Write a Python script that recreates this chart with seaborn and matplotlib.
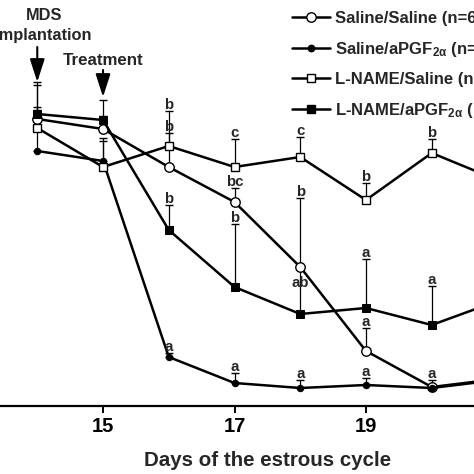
import matplotlib
matplotlib.use("Agg")
import matplotlib.pyplot as plt
import seaborn as sns
import numpy as np
import pandas as pd
from matplotlib.lines import Line2D

# ---------------- data ----------------
days = [14, 15, 16, 17, 18, 19, 20, 21]
series_names = ["Saline/Saline (n=6)",
                "Saline/aPGF$_{2\\alpha}$ (n=6)",
                "L-NAME/Saline (n=6)",
                "L-NAME/aPGF$_{2\\alpha}$ (n=6)"]
saline_saline = [71.75, 69.25, 59.75, 51.0, 34.75, 13.75, 4.75, 6.75]
saline_apgf = [63.75, 61.25, 12.25, 5.75, 4.5, 5.25, 4.5, 6.5]
lname_saline = [69.5, 59.75, 65.0, 59.75, 62.25, 51.5, 63.25, 56.5]
lname_apgf = [73.0, 71.5, 44.0, 29.75, 23.0, 24.5, 20.25, 26.25]

se_saline_saline = [2.25, 7.25, 14.0, 3.5, 0.0, 5.75, 1.75, 1.5]
se_saline_apgf = [16.5, 5.0, 1.0, 2.5, 2.0, 1.75, 0.5, 0.5]
se_lname_saline = [11.5, 7.25, 3.25, 7.0, 5.0, 4.25, 3.5, 3.0]
se_lname_apgf = [1.75, 1.0, 6.25, 15.75, 29.0, 12.25, 9.75, 5.0]

# significance letters: (series index, day, text, placement)
letters = [
    (0, 16, "b", "above"), (0, 17, "bc", "above"), (0, 18, "ab", "below"),
    (0, 19, "a", "above"), (0, 20, "a", "above"),
    (1, 16, "a", "above"), (1, 17, "a", "above"), (1, 18, "a", "above"),
    (1, 19, "a", "above"),
    (2, 16, "b", "above"), (2, 17, "c", "above"), (2, 18, "c", "above"),
    (2, 19, "b", "above"), (2, 20, "b", "above"),
    (3, 16, "b", "above"), (3, 17, "b", "above"), (3, 18, "b", "above"),
    (3, 19, "a", "above"), (3, 20, "a", "above"),
]
xtick_vals = [15, 17, 19]
xtick_labels = ["15", "17", "19"]
x_label = "Days of the estrous cycle"

# ---------------- style ----------------
sns.set_style("white")
plt.rcParams["font.family"] = ["Liberation Sans", "DejaVu Sans"]
plt.rcParams["font.weight"] = "bold"
plt.rcParams["mathtext.fontset"] = "custom"
plt.rcParams["mathtext.rm"] = "Liberation Sans:bold"
plt.rcParams["mathtext.it"] = "Liberation Sans:bold"
plt.rcParams["mathtext.bf"] = "Liberation Sans:bold"
plt.rcParams["mathtext.default"] = "bf"

means = [saline_saline, saline_apgf, lname_saline, lname_apgf]
ses = [se_saline_saline, se_saline_apgf, se_lname_saline, se_lname_apgf]
marker_styles = [
    dict(marker="o", markersize=6.8, markerfacecolor="white", markeredgecolor="black", markeredgewidth=1.0),
    dict(marker="o", markersize=4.6, markerfacecolor="black", markeredgecolor="black"),
    dict(marker="s", markersize=6.4, markerfacecolor="white", markeredgecolor="black", markeredgewidth=1.0),
    dict(marker="s", markersize=5.2, markerfacecolor="black", markeredgecolor="black"),
]

fig = plt.figure(figsize=(4.74, 4.74), dpi=100)
ax = fig.add_axes([0.0, 68 / 474, 1.0, 406 / 474])

# error bars (upper only)
for m, s in zip(means, ses):
    ax.errorbar(days, m, yerr=[np.zeros(len(s)), s], fmt="none", ecolor="black",
                elinewidth=0.9, capsize=3.2, capthick=1.0, zorder=1)

handles = []
for name, m, ms in zip(series_names, means, marker_styles):
    df = pd.DataFrame({"day": days, "value": m})
    sns.lineplot(data=df, x="day", y="value", ax=ax, color="black", linewidth=1.8,
                 zorder=3, legend=False, **ms)
    handles.append(Line2D([0], [0], color="black", linewidth=1.8, label=name, **ms))

# letters
for si, d, t, pos in letters:
    i = days.index(d)
    if pos == "above":
        y = means[si][i] + ses[si][i] + 0.6
        ax.text(d, y, t, ha="center", va="baseline", fontsize=10.8, fontweight="bold")
    else:
        y = means[si][i] - 4.0
        ax.text(d, y, t, ha="center", va="center", fontsize=10.8, fontweight="bold")

# annotations with arrows
arrow = dict(arrowstyle="-|>,head_length=1.4,head_width=0.45", color="black",
             linewidth=1.5, shrinkA=0, shrinkB=0, mutation_scale=10)
ax.annotate("", xy=(14, 81.0), xytext=(14, 89.75), arrowprops=arrow)
ax.annotate("", xy=(15, 77.25), xytext=(15, 84.0), arrowprops=arrow)
ax.text(14.1, 96.5, "MDS", ha="center", va="baseline", fontsize=11.8, fontweight="bold")
ax.text(14.1, 91.5, "Implantation", ha="center", va="baseline", fontsize=11.8, fontweight="bold")
ax.text(15.0, 85.25, "Treatment", ha="center", va="baseline", fontsize=12.2, fontweight="bold")

# axes styling
for sp in ["left", "top", "right"]:
    ax.spines[sp].set_visible(False)
ax.spines["bottom"].set_linewidth(1.6)
ax.spines["bottom"].set_color("black")
ax.set_yticks([])
ax.set_xticks(xtick_vals)
ax.set_xticklabels(xtick_labels, fontsize=14.5, fontweight="bold")
ax.tick_params(axis="x", direction="out", length=5, width=1.4, pad=3, bottom=True, colors="black")
ax.set_xlabel(x_label, fontsize=14.8, fontweight="bold")
ax.xaxis.set_label_coords(268 / 474, -(461 - 406) / 406)
ax.xaxis.label.set_va("center")
ax.set_ylabel("")
ax.set_xlim(13.433, 20.643)
ax.set_ylim(0, 101.5)

leg = ax.legend(handles=handles, loc="upper left", bbox_to_anchor=(292 / 474, 1 - 11 / 406),
                frameon=False, handlelength=2.3, handletextpad=0.3,
                labelspacing=0.82, borderpad=0, borderaxespad=0, prop={"weight": "bold", "size": 12})

fig.savefig("out.png", dpi=100)
